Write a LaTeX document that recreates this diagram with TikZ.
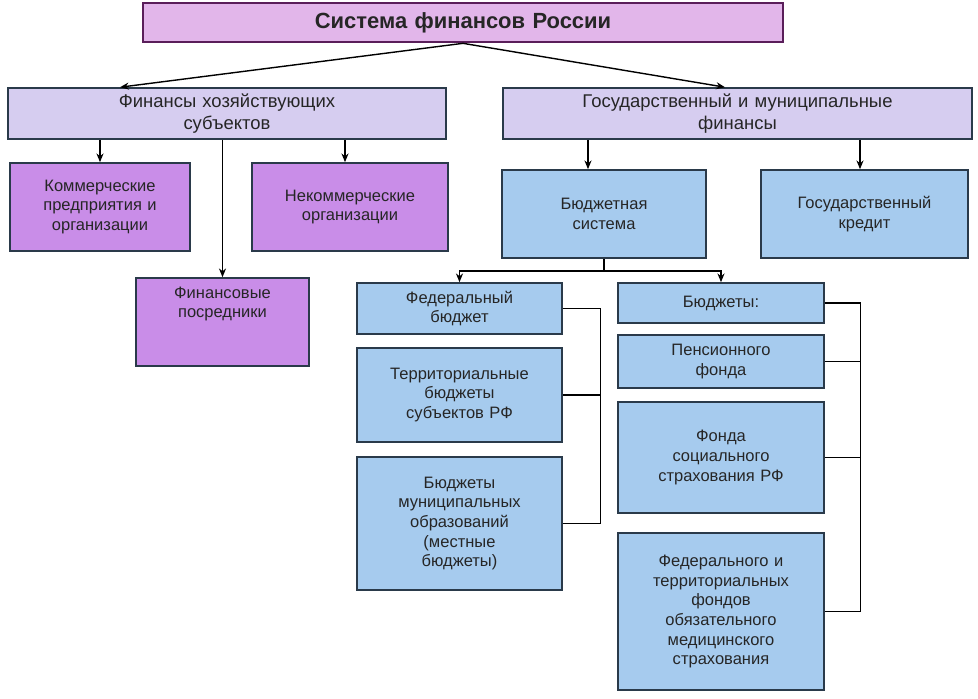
\documentclass[tikz,border=0pt]{standalone}
\usepackage{fontspec}
\setmainfont{Liberation Sans}
\usetikzlibrary{arrows.meta,calc}
\definecolor{tpink}{HTML}{E2B6EA}
\definecolor{tborder}{HTML}{5A1E5A}
\definecolor{lav}{HTML}{D6CDF0}
\definecolor{purp}{HTML}{C98DE8}
\definecolor{blu}{HTML}{A6CBEE}
\definecolor{bbord}{HTML}{2A3A4A}
\begin{document}
\begin{tikzpicture}[x=0.02cm,y=-0.02cm,
  bx/.style={draw=bbord,line width=0.9pt,align=center,inner sep=2pt,font=\fontsize{9.4}{11.2}\selectfont,text=black!85},
  lv/.style={bx,fill=lav,font=\fontsize{10.5}{12.5}\selectfont},
  pp/.style={bx,fill=purp},
  bl/.style={bx,fill=blu},
  arr/.style={line width=0.8pt,-{Stealth[length=5pt,width=4pt]}},
  ln/.style={line width=0.8pt}]
\useasboundingbox (0,0) rectangle (978,698);
\newcommand{\mybox}[7]{\node[#6,minimum width=#4*0.02cm,minimum height=#5*0.02cm,text width=#4*0.02cm-8pt] (#1) at (#2,#3) {#7};}
\mybox{title}{463}{22.5}{640}{39}{bx,fill=tpink,draw=tborder,line width=1.5pt,font=\fontsize{12.5}{14}\selectfont\bfseries}{Система финансов России}
\mybox{fhs}{227}{113.5}{438}{51}{lv}{Финансы хозяйствующих\\субъектов}
\mybox{gmf}{737.5}{113.5}{469}{51}{lv}{Государственный и муниципальные\\финансы}
\mybox{kom}{100}{207}{180}{88}{pp}{Коммерческие\\предприятия и\\организации}
\mybox{nek}{350}{207}{196}{88}{pp}{Некоммерческие\\организации}
\mybox{fp}{222.5}{322}{173}{88}{pp}{Финансовые\\посредники\\\mbox{}\\\mbox{}}
\mybox{bs}{604}{214}{204}{88}{bl}{Бюджетная\\система}
\mybox{gk}{864.5}{214}{207}{88}{bl}{Государственный\\кредит}
\mybox{fb}{459.5}{308.5}{205}{51}{bl}{Федеральный\\бюджет}
\mybox{tb}{459.5}{395}{205}{94}{bl}{Территориальные\\бюджеты\\субъектов РФ}
\mybox{mb}{459.5}{523.5}{205}{133}{bl}{Бюджеты\\муниципальных\\образований\\(местные\\бюджеты)}
\mybox{bud}{721}{303}{206}{40}{bl}{Бюджеты:}
\mybox{pf}{721}{361.5}{206}{53}{bl}{Пенсионного\\фонда}
\mybox{fss}{721}{457.5}{206}{111}{bl}{Фонда\\социального\\страхования РФ}
\mybox{ffoms}{721}{611.5}{206}{157}{bl}{Федерального и\\территориальных\\фондов\\обязательного\\медицинского\\страхования}
% top arrows
\draw[arr] (title.south) -- ([xshift=-2.14cm]fhs.north);
\draw[arr] (title.south) -- ([xshift=-0.25cm]gmf.north);
\draw[arr] (kom.north |- fhs.south) -- (kom.north);
\draw[arr] ([xshift=-0.1cm]nek.north |- fhs.south) -- ([xshift=-0.1cm]nek.north);
\draw[arr] (fp.north |- fhs.south) -- (fp.north);
\draw[arr] ([xshift=-0.32cm]bs.north |- gmf.south) -- ([xshift=-0.32cm]bs.north);
\draw[arr] ([xshift=-0.09cm]gk.north |- gmf.south) -- ([xshift=-0.09cm]gk.north);
% budget system split
\coordinate (split) at ($(bs.south)+(0,12)$);
\draw[ln] (bs.south) -- (split);
\draw[arr] (split) -| (fb.north);
\draw[arr] (split) -| (bud.north);
% brackets
\draw[ln] (fb.east) -| ($(mb.east)+(38,0)$) -- (mb.east);
\draw[ln] (tb.east) -- ++(38,0);
\draw[ln] (bud.east) -| ($(ffoms.east)+(36,0)$) -- (ffoms.east);
\draw[ln] (pf.east) -- ++(36,0);
\draw[ln] (fss.east) -- ++(36,0);
\end{tikzpicture}
\end{document}
